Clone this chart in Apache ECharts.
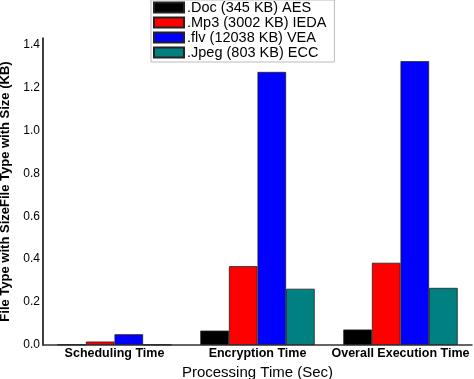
<!DOCTYPE html>
<html><head><meta charset="utf-8">
<script src="https://cdn.jsdelivr.net/npm/echarts@6/dist/echarts.min.js"></script>
<style>html,body{margin:0;padding:0;background:#fff}#c{width:474px;height:379px}</style>
</head><body><div id="c"></div>
<script>
const categories = ['Scheduling Time', 'Encryption Time', 'Overall Execution Time'];
const seriesNames = ['.Doc (345 KB) AES', '.Mp3 (3002 KB) IEDA', '.flv (12038 KB) VEA', '.Jpeg (803 KB) ECC'];
const docAES = [0.002, 0.067, 0.072];
const mp3IEDA = [0.016, 0.367, 0.383];
const flvVEA = [0.05, 1.272, 1.322];
const jpegECC = [0.002, 0.262, 0.266];
const yTicks = [0, 0.2, 0.4, 0.6, 0.8, 1.0, 1.2, 1.4];
const colors = ['#000000', '#ff0000', '#0000ff', '#008080'];
const values = [docAES, mp3IEDA, flvVEA, jpegECC];

const chart = echarts.init(document.getElementById('c'));
chart.setOption({
  animation: false,
  textStyle: { fontFamily: 'Liberation Sans, Arial, sans-serif' },
  legend: {
    orient: 'vertical', left: 151, top: 0,
    icon: 'rect',
    itemWidth: 30, itemHeight: 10, itemGap: 0,
    padding: [0, 8, 2, 2],
    borderColor: '#bbb', borderWidth: 1, backgroundColor: '#fff',
    textStyle: { fontSize: 14.5, lineHeight: 15, color: '#000', padding: [0, 0, 0, -2] },
    data: seriesNames
  },
  grid: { left: 43, right: 2, top: 38, bottom: 34, outerBoundsMode: 'none', containLabel: false },
  xAxis: {
    type: 'category', data: categories,
    axisLine: { lineStyle: { color: '#333', width: 1.5 } },
    axisTick: { show: false },
    axisLabel: { color: '#000', fontSize: 12.5, fontWeight: 'bold', margin: 2, interval: 0 },
    name: 'Processing Time (Sec)', nameLocation: 'middle', nameGap: 13,
    nameTextStyle: { fontSize: 15, color: '#000' }
  },
  yAxis: {
    type: 'value', min: 0, max: 1.43, interval: 0.2,
    axisLine: { show: true, lineStyle: { color: '#000', width: 1.5 } },
    axisTick: { show: false },
    splitLine: { show: false },
    axisLabel: { color: '#000', fontSize: 12, margin: 3, showMaxLabel: false,
      formatter: v => yTicks.some(t => Math.abs(t - v) < 1e-6) ? v.toFixed(1) : '' },
    name: 'File Type with SizeFile Type with Size (KB)', nameLocation: 'middle', nameGap: 26,
    nameTextStyle: { fontSize: 13, fontWeight: 'bold', color: '#000' }
  },
  series: seriesNames.map((n, i) => ({
    name: n, type: 'bar', data: values[i],
    barGap: '0%', barCategoryGap: '20%',
    itemStyle: { color: colors[i], borderColor: '#222', borderWidth: 0.8 }
  }))
});
</script></body></html>
